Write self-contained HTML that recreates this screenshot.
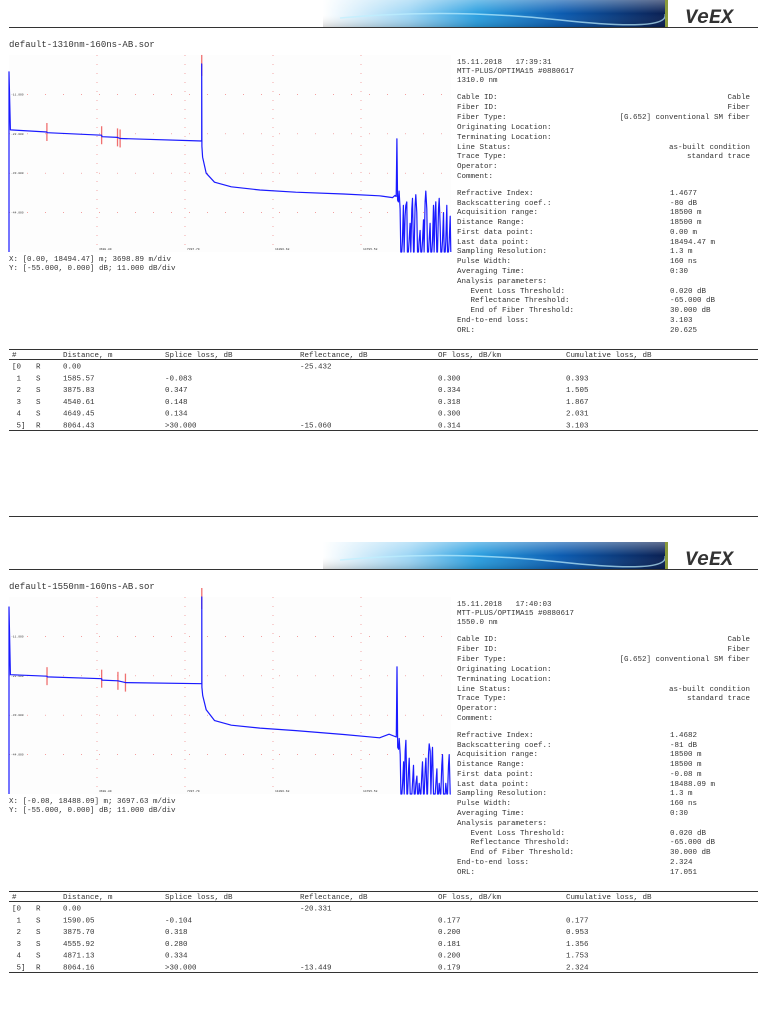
<!DOCTYPE html>
<html><head><meta charset="utf-8"><style>
html,body{margin:0;padding:0;background:#fff;}
svg{display:block;}
text{font-family:"Liberation Mono",monospace;fill:#333;white-space:pre;}
</style></head><body>
<svg id="pg" width="768" height="1024" viewBox="0 0 768 1024" xmlns="http://www.w3.org/2000/svg" xml:space="preserve">
<defs>
<linearGradient id="bg" x1="0" x2="1" y1="0" y2="0">
<stop offset="0" stop-color="#ffffff"/><stop offset="0.25" stop-color="#9ed6f5"/><stop offset="0.45" stop-color="#2a9fe0"/><stop offset="0.7" stop-color="#0b5bb0"/><stop offset="1" stop-color="#0a1f52"/></linearGradient>
<linearGradient id="bg2" x1="0" x2="0" y1="0" y2="1"><stop offset="0" stop-color="#fff" stop-opacity="0.35"/><stop offset="0.5" stop-color="#fff" stop-opacity="0"/><stop offset="1" stop-color="#000" stop-opacity="0.15"/></linearGradient>
</defs>
</svg>
<script>
// ---- chart data (page 1: 1310 nm) ----
const traceDist1 = [0,0,60,1585,1600,3875,3890,4540,4649,8064,8064,8070,8100,8250,8600,9300,10500,12000,14000,15500,16050,16150,16200,16230,16260];
const traceDb1   = [-55,-4.7,-20.9,-21.5,-21.7,-22.4,-22.8,-23.0,-23.3,-24.0,-2.5,-25.5,-28.5,-33.0,-35.5,-36.8,-37.7,-38.3,-38.8,-39.3,-39.8,-39.2,-39.5,-23.4,-40.5];
const noiseDb1 = [-41,-43,-55,-42,-45,-41,-55,-47,-43,-55,-42,-44,-55,-49,-55,-46,-41,-43,-55,-47,-55,-42,-44,-55,-43,-48,-55,-44,-55,-42,-55,-45];
const events1 = [0,1585.57,3875.83,4540.61,4649.45,8064.43];
// ---- chart data (page 2: 1550 nm) ----
const traceDist2 = [0,0,60,1590,1605,3875,3890,4555,4871,8064,8064,8070,8100,8250,8600,9300,10500,12000,14000,15000,15500,15900,16200,16230,16260];
const traceDb2   = [-55,-2.8,-21.7,-22.1,-22.3,-22.8,-23.2,-23.4,-23.9,-24.2,0,-25.2,-27.5,-31.5,-34.5,-35.8,-36.6,-37.3,-38.4,-39.0,-39.3,-38.3,-39.1,-19.5,-42];
const noiseDb2 = [-42.5,-44,-55,-46,-43,-55,-48,-55,-55,-47,-55,-50,-55,-55,-49,-55,-48,-55,-44,-43,-45,-55,-55,-48,-55,-55,-47,-55,-55,-55,-47,-55];
const events2 = [0,1590.05,3875.70,4555.92,4871.13,8064.16];
const xTicks = ["3698.89","7397.79","11096.68","14795.58"];

const NS="http://www.w3.org/2000/svg";
const svg=document.getElementById('pg');
function el(tag,attrs,parent){const e=document.createElementNS(NS,tag);for(const k in attrs)e.setAttribute(k,attrs[k]);(parent||svg).appendChild(e);return e;}
function txt(x,y,s,size,anchor,parent,color){const t=el('text',{x:x,y:y,'font-size':size||7.5,'text-anchor':anchor||'start'},parent);if(color)t.setAttribute('fill',color);t.textContent=s;return t;}

function page(off,p){
  const g=el('g',{transform:'translate(0,'+off+')'});
  
  
  const b=el('g',{},g);
  
  
  el('rect',{x:323,y:0,width:342,height:27,fill:'url(#bg)'},b);
  el('rect',{x:323,y:0,width:342,height:27,fill:'url(#bg2)'},b);
  el('path',{d:'M340 18 Q450 8 560 20 T665 14',stroke:'#bdf0ff','stroke-width':1.5,fill:'none',opacity:0.7},b);
  el('rect',{x:665,y:0,width:3,height:27,fill:'#8a9a3a'},b);
  const logo=txt(685,23,'VeEX',20,'start',b,'#1e4f86');
  logo.setAttribute('font-family','Liberation Sans, sans-serif');logo.setAttribute('font-weight','bold');logo.setAttribute('font-style','italic');
  
  
  el('line',{x1:9,y1:27.5,x2:758,y2:27.5,stroke:'#333','stroke-width':1},g);
  const t=txt(9,47,p.file,9,'start',g,'#333');
  
  
  const X0=9,W=442,Y0=55,H=197;
  const xMax=p.xmax, xMin=p.xmin;
  const xs=d=>X0+(d-xMin)/(xMax-xMin)*W;
  const ys=v=>Y0+(-v)/55*H;
  const c=el('g',{},g);
  
  
  el('rect',{x:X0,y:Y0,width:W,height:H,fill:'#fdfdfd'},c);
  for(let i=1;i<5;i++){const x=X0+i*88;el('line',{x1:x,y1:Y0,x2:x,y2:Y0+H,stroke:'#f08080','stroke-width':0.7,'stroke-dasharray':'1,8'},c);
    const tl=txt(x+2,Y0+H-2,xTicks[i-1],3,'start',c,'#f08080');}
  for(let i=1;i<5;i++){const y=Y0+i*H/5;el('line',{x1:X0,y1:y,x2:X0+W,y2:y,stroke:'#f08080','stroke-width':0.7,'stroke-dasharray':'1,17'},c);
    const yl=txt(X0+2,y+1,(-11*i).toFixed(3),3,'start',c,'#f08080');}
  p.events.forEach((d,i)=>{ if(i===0)return; const x=xs(d);
    let v=p.db[0];for(let k=1;k<p.dist.length;k++){if(p.dist[k]>=d){v=p.db[k-1];break;}}
    const y=ys(v); const m=el('line',{x1:x,y1:y-9,x2:x,y2:y+(i===5?12:9),stroke:'#f07070','stroke-width':1.3},c);
    
    });
  let pts=p.dist.map((d,i)=>xs(d).toFixed(1)+','+ys(p.db[i]).toFixed(1));
  const last=p.dist[p.dist.length-1];
  const step=(xMax-last)/p.noise.length;
  p.noise.forEach((v,i)=>{pts.push(xs(last+step*(i+0.5)).toFixed(1)+','+ys(v).toFixed(1));pts.push(xs(last+step*(i+0.9)).toFixed(1)+','+ys(i%2?-55:v+3).toFixed(1));});
  const tr=el('polyline',{points:pts.join(' '),fill:'none',stroke:'#1a1aff','stroke-width':1.2,'stroke-linejoin':'round'},c);
  
  
  const ax=txt(9,261,p.xlab,7.5,'start',g);
  const ay=txt(9,270,'Y: [-55.000, 0.000] dB; 11.000 dB/div',7.5,'start',g);
  const ip=el('g',{},g);
  
  
  p.info.forEach(r=>{txt(457,r[0],r[1],7.5,'start',ip);if(r[2])txt(r[3]?750:670,r[0],r[2],7.5,r[3]?'end':'start',ip);});
  const tb=el('g',{},g);
  
  
  el('line',{x1:9,y1:349.5,x2:758,y2:349.5,stroke:'#333','stroke-width':1},tb);
  el('line',{x1:9,y1:359.5,x2:758,y2:359.5,stroke:'#333','stroke-width':1},tb);
  el('line',{x1:9,y1:430.5,x2:758,y2:430.5,stroke:'#333','stroke-width':1},tb);
  const cols=[12,36,63,165,300,438,566];
  ['#','','Distance, m','Splice loss, dB','Reflectance, dB','OF loss, dB/km','Cumulative loss, dB'].forEach((h,i)=>txt(cols[i],357,h,7.5,'start',tb));
  p.rows.forEach((r,j)=>{r.forEach((s,i)=>txt(cols[i],368.5+j*11.8,s,7.5,'start',tb));});
}
const info=(d,t,nm,ri,bc,fdp,ldp,e2e,orl)=>[[64,d+'   '+t],[73,'MTT-PLUS/OPTIMA15 #0880617'],[82,nm],
 [99,'Cable ID:','Cable',1],[109,'Fiber ID:','Fiber',1],[119,'Fiber Type:','[G.652] conventional SM fiber',1],[129,'Originating Location:'],[139,'Terminating Location:'],
 [149,'Line Status:','as-built condition',1],[158,'Trace Type:','standard trace',1],[168,'Operator:'],[178,'Comment:'],
 [195,'Refractive Index:',ri],[205,'Backscattering coef.:',bc],[214,'Acquisition range:','18500 m'],[224,'Distance Range:','18500 m'],[234,'First data point:',fdp],[244,'Last data point:',ldp],
 [253,'Sampling Resolution:','1.3 m'],[263,'Pulse Width:','160 ns'],[273,'Averaging Time:','0:30'],[283,'Analysis parameters:'],[293,'   Event Loss Threshold:','0.020 dB'],[302,'   Reflectance Threshold:','-65.000 dB'],[312,'   End of Fiber Threshold:','30.000 dB'],[322,'End-to-end loss:',e2e],[332,'ORL:',orl]];
page(0,{nm:'1310',file:'default-1310nm-160ns-AB.sor',xmin:0,xmax:18494.47,dist:traceDist1,db:traceDb1,noise:noiseDb1,events:events1,
 xlab:'X: [0.00, 18494.47] m; 3698.89 m/div',
 info:info('15.11.2018','17:39:31','1310.0 nm','1.4677','-80 dB','0.00 m','18494.47 m','3.103','20.625'),
 rows:[['[0','R','0.00','','-25.432','',''],[' 1','S','1585.57','-0.083','','0.300','0.393'],[' 2','S','3875.83','0.347','','0.334','1.505'],[' 3','S','4540.61','0.148','','0.318','1.867'],[' 4','S','4649.45','0.134','','0.300','2.031'],[' 5]','R','8064.43','>30.000','-15.060','0.314','3.103']]});
el('line',{x1:9,y1:516.5,x2:758,y2:516.5,stroke:'#333','stroke-width':1});
page(542,{nm:'1550',file:'default-1550nm-160ns-AB.sor',xmin:-0.08,xmax:18488.09,dist:traceDist2,db:traceDb2,noise:noiseDb2,events:events2,
 xlab:'X: [-0.08, 18488.09] m; 3697.63 m/div',
 info:info('15.11.2018','17:40:03','1550.0 nm','1.4682','-81 dB','-0.08 m','18488.09 m','2.324','17.051'),
 rows:[['[0','R','0.00','','-20.331','',''],[' 1','S','1590.05','-0.104','','0.177','0.177'],[' 2','S','3875.70','0.318','','0.200','0.953'],[' 3','S','4555.92','0.280','','0.181','1.356'],[' 4','S','4871.13','0.334','','0.200','1.753'],[' 5]','R','8064.16','>30.000','-13.449','0.179','2.324']]});
</script>
</body></html>
